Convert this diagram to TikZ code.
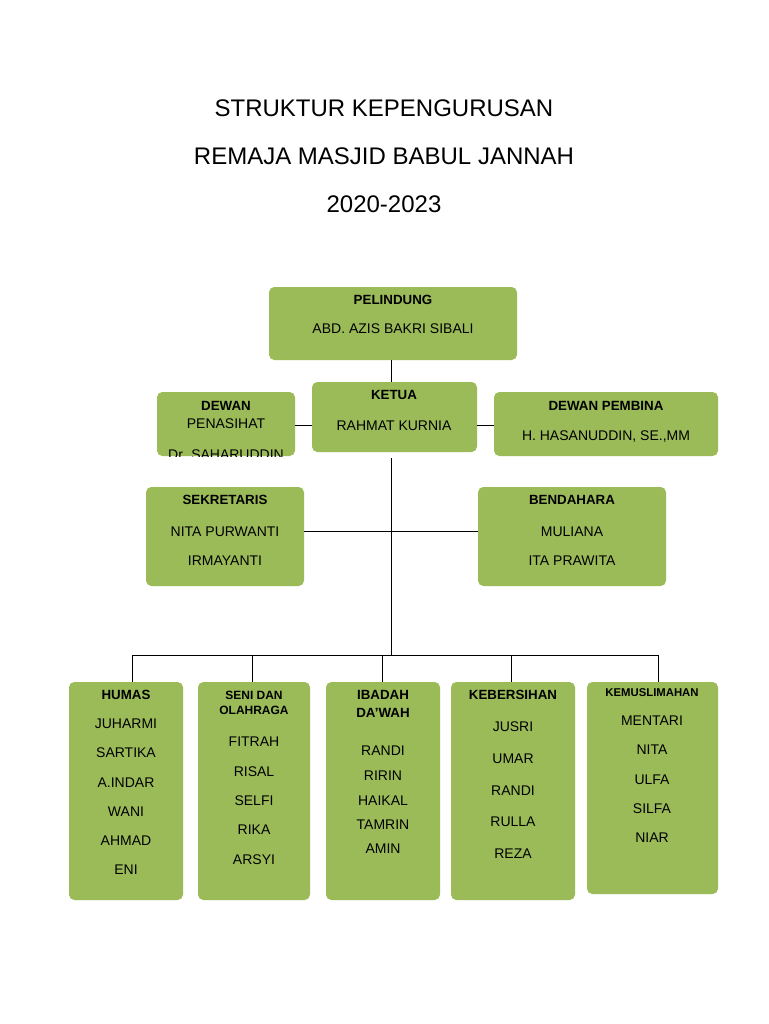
\documentclass[tikz,border=0pt]{standalone}
\usepackage{fontspec}
\setmainfont{Liberation Sans}
\definecolor{boxg}{HTML}{9BBB59}
\begin{document}
\begin{tikzpicture}[x=0.75pt,y=-0.75pt,
  gbox/.style={fill=boxg,draw=none,rounded corners=4pt},
  t/.style={font=\fontsize{10}{12}\selectfont\bfseries,anchor=center,inner sep=0},
  n/.style={font=\fontsize{10.5}{12}\selectfont,anchor=center,inner sep=0},
  ttl/.style={font=\fontsize{18}{20}\selectfont,anchor=center},
  ln/.style={draw=black,line width=0.7pt}]
\useasboundingbox (0,0) rectangle (768,1024);
\node[ttl] (t1) at (384,108) {STRUKTUR KEPENGURUSAN};
\node[ttl] (t2) at (384,156) {REMAJA MASJID BABUL JANNAH};
\node[ttl] (t3) at (384,204) {2020-2023};
% boxes
\path[gbox] (269,287) rectangle (517,360) coordinate (pelbr);
\coordinate (pelB) at (391,360);
\node[t] (pel) at (393,300) {PELINDUNG};
\node[n] (peln) at (393,329) {ABD. AZIS BAKRI SIBALI};
\path[gbox] (312,382) rectangle (477,452);
\coordinate (ketT) at (391,382);
\coordinate (ketL) at (312,425);
\coordinate (ketR) at (477,425);
\node[t] (ket) at (394,395) {KETUA};
\node[n] (ketn) at (394,426) {RAHMAT KURNIA};
\path[gbox] (157,392) rectangle (295,456);
\coordinate (dewR) at (295,425);
\node[t] (dew) at (226,406) {DEWAN};
\node[n] (dew2) at (226,424) {PENASIHAT};
\begin{scope}
\clip (157,392) rectangle (295,456);
\node[n] (dew3) at (226,455) {Dr. SAHARUDDIN};
\end{scope}
\path[gbox] (494,392) rectangle (718,456);
\coordinate (pemL) at (494,425);
\node[t] (pem) at (606,406) {DEWAN PEMBINA};
\node[n] (pemn) at (606,437) {H. HASANUDDIN, SE.,MM};
\path[gbox] (146,487) rectangle (304,586);
\coordinate (sekR) at (304,531);
\node[t] (sek) at (225,500) {SEKRETARIS};
\node[n] (sek1) at (225,532) {NITA PURWANTI};
\node[n] (sek2) at (225,561) {IRMAYANTI};
\path[gbox] (478,487) rectangle (666,586);
\coordinate (benL) at (478,531);
\node[t] (ben) at (572,500) {BENDAHARA};
\node[n] (ben1) at (572,532) {MULIANA};
\node[n] (ben2) at (572,561) {ITA PRAWITA};
% bottom boxes
\path[gbox] (69,682) rectangle (183,900);
\node[t] (hum) at (126,695) {HUMAS};
\foreach \s/\y [count=\i] in {JUHARMI/724,SARTIKA/753,A.INDAR/783,WANI/812,AHMAD/841,ENI/870}
  \node[n] (hum\i) at (126,\y) {\s};
\path[gbox] (198,682) rectangle (310,900);
\node[t,font=\fontsize{9}{11}\selectfont\bfseries,align=center] (sen) at (254,703) {SENI DAN\\OLAHRAGA};
\foreach \s/\y [count=\i] in {FITRAH/742,RISAL/772,SELFI/801,RIKA/830,ARSYI/860}
  \node[n] (sen\i) at (254,\y) {\s};
\path[gbox] (326,682) rectangle (440,900);
\node[t,align=center] (iba) at (383,704) {IBADAH\\[2pt]DA'WAH};
\foreach \s/\y [count=\i] in {RANDI/751,RIRIN/776,HAIKAL/801,TAMRIN/825,AMIN/849}
  \node[n] (iba\i) at (383,\y) {\s};
\path[gbox] (451,682) rectangle (575,900);
\node[t] (keb) at (513,695) {KEBERSIHAN};
\foreach \s/\y [count=\i] in {JUSRI/727,UMAR/759,RANDI/791,RULLA/822,REZA/854}
  \node[n] (keb\i) at (513,\y) {\s};
\path[gbox] (587,682) rectangle (718,894);
\node[t,font=\fontsize{8.5}{10}\selectfont\bfseries] (kem) at (652,693) {KEMUSLIMAHAN};
\foreach \s/\y [count=\i] in {MENTARI/721,NITA/750,ULFA/780,SILFA/809,NIAR/838}
  \node[n] (kem\i) at (652,\y) {\s};
% connectors
\coordinate (v1) at (391,458);
\coordinate (v2) at (391,655);
\coordinate (hs) at (391,531);
\draw[ln] (pelB) -- (ketT);
\draw[ln] (dewR) -- (ketL);
\draw[ln] (ketR) -- (pemL);
\draw[ln] (v1) -- (v2);
\draw[ln] (sekR) -- (benL);
\draw[ln] (132,655) -- (658,655);
\foreach \x in {132,252,382,511,658} \draw[ln] (\x,655) -- (\x,682);
\end{tikzpicture}
\end{document}
